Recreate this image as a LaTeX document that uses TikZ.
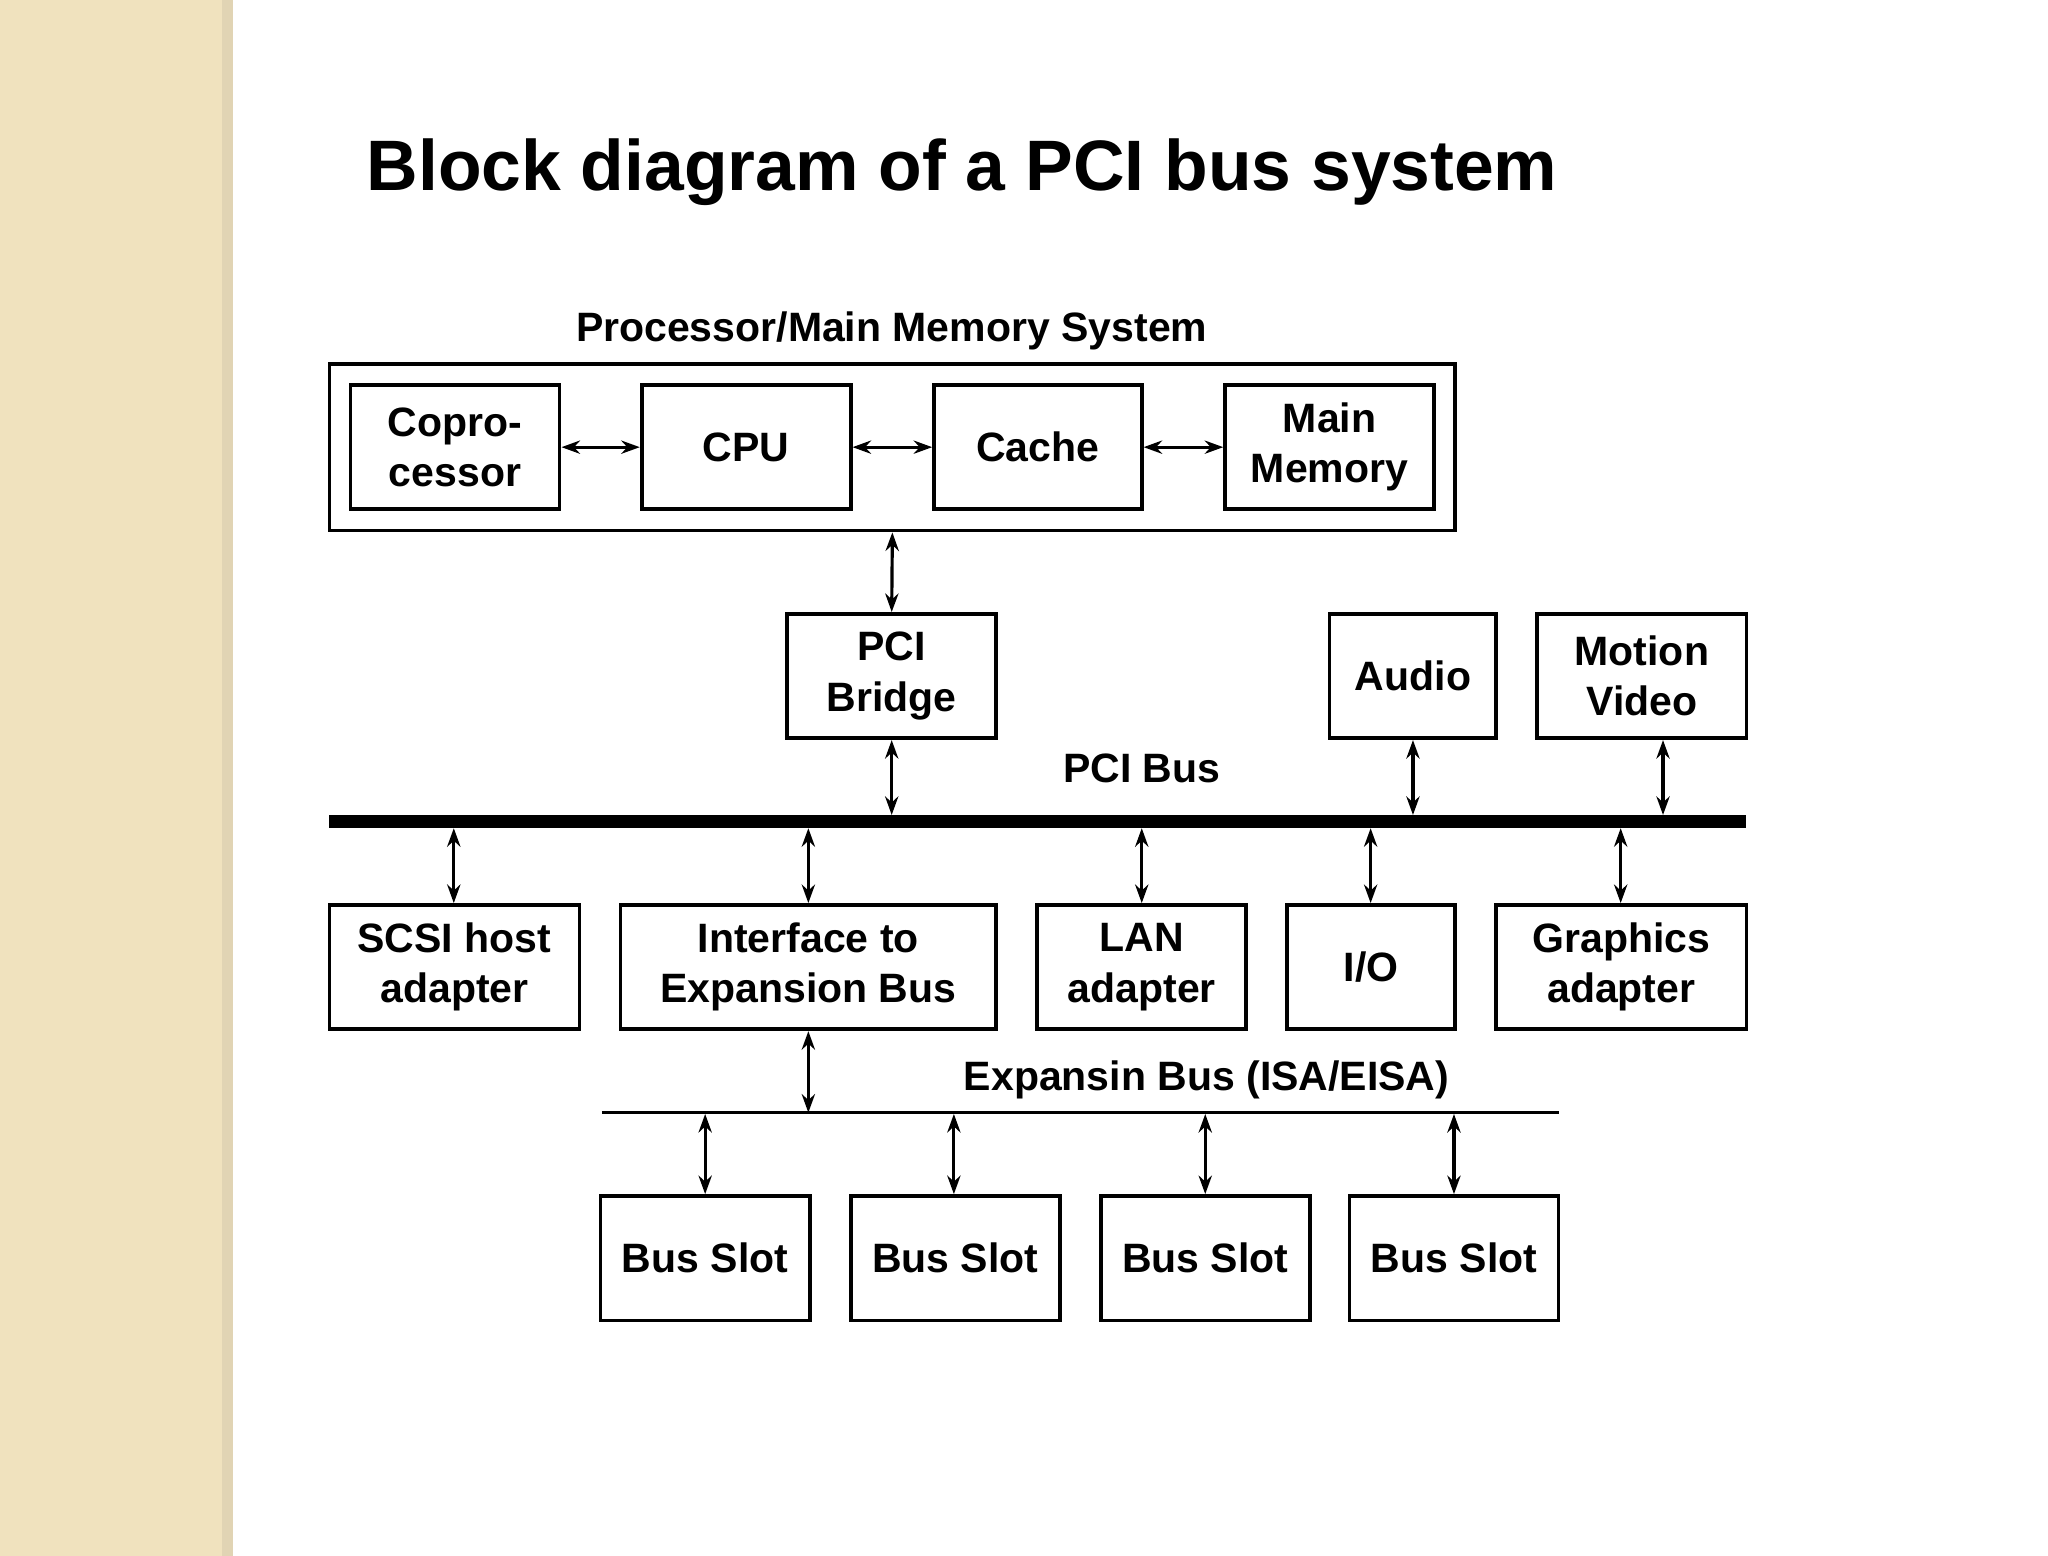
\documentclass[tikz,border=0pt]{standalone}
\usepackage{fontspec}
\setmainfont{Liberation Sans}
\usetikzlibrary{arrows.meta}
\begin{document}
\begin{tikzpicture}[x=0.5pt,y=-0.5pt,
  box/.style={draw,line width=1.4pt,inner sep=0pt,font=\fontsize{15.5}{19}\selectfont\bfseries,align=center},
  lab/.style={font=\fontsize{15.5}{19}\selectfont\bfseries},
  arr/.style={line width=1.2pt,{Stealth[length=7pt,width=5pt]}-{Stealth[length=7pt,width=5pt]}}]
\useasboundingbox (0,0) rectangle (1548,1176);
\fill[white] (0,0) rectangle (1548,1176);
\fill[fill={rgb,255:red,240;green,226;blue,190}] (0,0) rectangle (172,1176);
\fill[fill={rgb,255:red,225;green,212;blue,180}] (168,0) rectangle (176,1176);
\node[anchor=west,font=\fontsize{27}{32}\selectfont\bfseries] (title) at (270,130) {Block diagram of a PCI bus system};
\node[lab] (pmlab) at (674,250) {Processor/Main Memory System};
\node[draw,line width=1.4pt,minimum width=425.5pt,minimum height=63pt] (outer) at (674.5,338) {};
\def\bx#1#2#3#4#5#6{\node[box,minimum width=#4*0.5pt-#2*0.5pt,minimum height=#5*0.5pt-#3*0.5pt] (#1) at ({(#2+#4)/2},{(#3+#5)/2}) {#6};}
\bx{cop}{265}{291}{423}{385}{Copro-\\cessor}
\bx{cpu}{485}{291}{643}{385}{CPU}
\bx{cache}{706}{291}{863}{385}{Cache}
\bx{mm}{926}{291}{1084}{385}{Main\\Memory}
\bx{br}{595}{464}{753}{558}{PCI\\Bridge}
\bx{au}{1005}{464}{1131}{558}{Audio}
\bx{mv}{1162}{464}{1320}{558}{Motion\\Video}
\bx{scsi}{249}{684}{438}{778}{SCSI host\\adapter}
\bx{ifc}{469}{684}{753}{778}{Interface to\\Expansion Bus}
\bx{lan}{784}{684}{942}{778}{LAN\\adapter}
\bx{io}{973}{684}{1100}{778}{I/O}
\bx{gr}{1131}{684}{1320}{778}{Graphics\\adapter}
\bx{s1}{454}{904}{612}{998}{Bus Slot}
\bx{s2}{643}{904}{801}{998}{Bus Slot}
\bx{s3}{832}{904}{990}{998}{Bus Slot}
\bx{s4}{1020}{904}{1178}{998}{Bus Slot}
\draw[arr] (cop) -- (cpu);
\draw[arr] (cpu) -- (cache);
\draw[arr] (cache) -- (mm);
\draw[arr] (outer.south) -- (br.north);
% PCI bus
\coordinate (pl) at (249,621); \coordinate (pr) at (1320,621);
\draw[line width=5pt] (pl) -- (pr);
\node[lab] (pcilab) at (863,581) {PCI Bus};
\foreach \n/\x in {br/674,au/1068,mv/1257}{
  \coordinate (b\n) at (\x,616);
  \draw[arr] (\n.south -| b\n) -- (b\n);}
\foreach \n/\x in {scsi/343,ifc/611,lan/863,io/1036,gr/1225}{
  \coordinate (b\n) at (\x,626);
  \draw[arr] (b\n) -- (\n.north -| b\n);}
% Expansion bus
\coordinate (el) at (455,841); \coordinate (er) at (1178,841);
\draw[line width=1.3pt] (el) -- (er);
\node[lab] (explab) at (912,816) {Expansin Bus (ISA/EISA)};
\coordinate (eifc) at (611,841);
\draw[arr] (ifc.south -| eifc) -- (eifc);
\foreach \n/\x in {s1/533,s2/721,s3/911,s4/1099}{
  \coordinate (e\n) at (\x,842);
  \draw[arr] (e\n) -- (\n.north -| e\n);}
\end{tikzpicture}
\end{document}
